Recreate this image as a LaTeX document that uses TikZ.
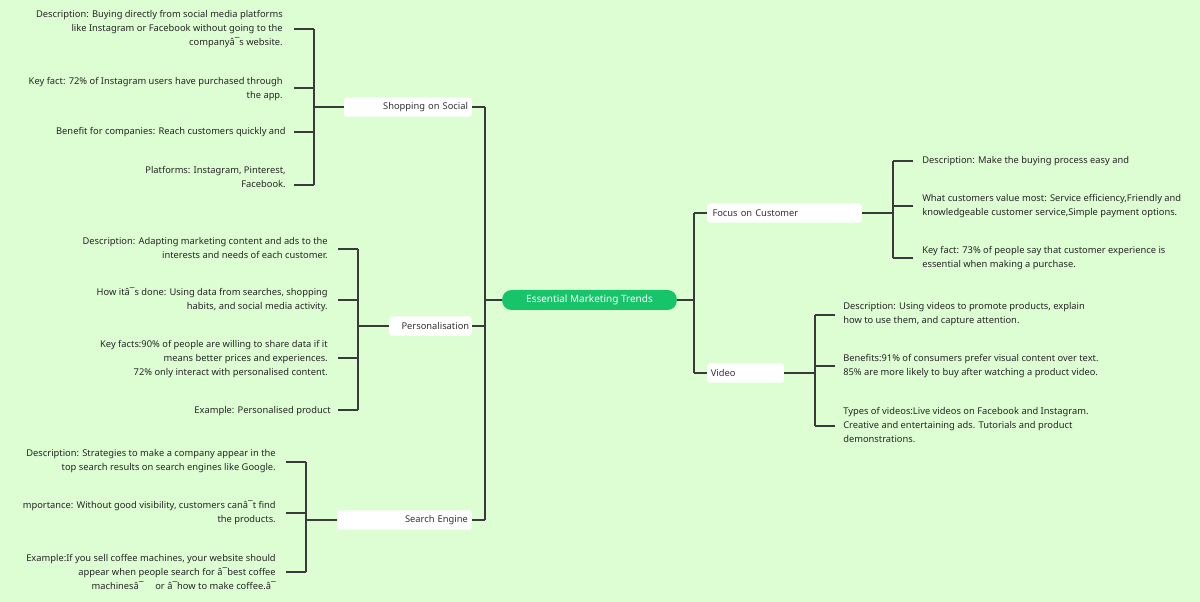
\documentclass[tikz,border=0pt]{standalone}
\usepackage{fontspec}
\setmainfont{Noto Sans}
\usetikzlibrary{positioning}
\definecolor{bgc}{HTML}{DDFDD3}
\definecolor{rootc}{HTML}{17C46A}
\definecolor{linec}{HTML}{3A3A3A}
\tikzset{
	topic/.style={fill=white, rounded corners=2pt, minimum height=14.5pt, inner sep=0pt, font=\fontsize{7}{10.5}\selectfont, text=black!80},
	leafL/.style={anchor=east, align=right, inner sep=0pt, font=\fontsize{7}{10.5}\selectfont, text=black!85},
	leafR/.style={anchor=west, align=left, inner sep=0pt, font=\fontsize{7}{10.5}\selectfont, text=black!85},
	link/.style={draw=linec, line width=1.1pt},
	twig/.style={draw=linec, line width=0.9pt}
}
\begin{document}
\begin{tikzpicture}[x=0.75pt, y=-0.75pt]
	\fill[bgc] (0, 0) rectangle (1200, 602);
	\useasboundingbox (0, 0) rectangle (1200, 602);

	% central topic
	\node[fill=rootc, rounded corners=7pt, minimum width=131pt, minimum height=15pt, inner sep=0pt, text=white, font=\fontsize{7.5}{9}\selectfont\bfseries] (root) at (589.5, 300) {Essential Marketing Trends};

	% main topics
	\node[topic, minimum width=96pt, text width=90pt, align=right] (shop) at (408, 107) {Shopping on Social};
	\node[topic, minimum width=62pt, text width=58pt, align=right] (pers) at (430.5, 326) {Personalisation};
	\node[topic, minimum width=101pt, text width=95pt, align=right] (seo) at (404.5, 520) {Search Engine};
	\node[topic, minimum width=116pt, text width=108pt, align=left] (cust) at (784.5, 213) {Focus on Customer};
	\node[topic, minimum width=58pt, text width=52pt, align=left] (video) at (745.5, 373) {Video};

	\coordinate (jl) at (485, 300);
	\coordinate (jr) at (694, 300);
	\draw[link] (root.west) -- (jl);
	\draw[link] (jl |- shop.east) -- (jl |- seo.east);
	\draw[link] (root.east) -- (jr);
	\draw[link] (jr |- cust.west) -- (jr |- video.west);
	\foreach \t in {shop, pers, seo} \draw[link] (\t.east) -- (jl |- \t.east);
	\foreach \t in {cust, video} \draw[link] (\t.west) -- (jr |- \t.west);

	% Shopping on Social
	\node[leafL] (s1) at (283, 29) {Description: Buying directly from social media platforms\\like Instagram or Facebook without going to the\\companyâ¯s website.};
	\node[leafL] (s2) at (283, 89) {Key fact: 72\% of Instagram users have purchased through\\the app.};
	\node[leafL] (s3) at (286, 132) {Benefit for companies: Reach customers quickly and};
	\node[leafL] (s4) at (286, 177) {Platforms: Instagram, Pinterest,\\Facebook.};
	\coordinate (js) at (314, 107);
	\draw[link] (shop.west) -- (js);
	\draw[twig] (js |- 0, 29) -- (js |- 0, 185);
	\foreach \y in {29, 88, 132, 185} \draw[twig] (294, \y) -- (js |- 0, \y);

	% Personalisation
	\node[leafL] (p1) at (328, 248) {Description: Adapting marketing content and ads to the\\interests and needs of each customer.};
	\node[leafL] (p2) at (328, 300) {How itâ¯s done: Using data from searches, shopping\\habits, and social media activity.};
	\node[leafL] (p3) at (328, 359) {Key facts:90\% of people are willing to share data if it\\means better prices and experiences.\\72\% only interact with personalised content.};
	\node[leafL] (p4) at (331, 411) {Example: Personalised product};
	\coordinate (jp) at (358, 326);
	\draw[link] (pers.west) -- (jp);
	\draw[twig] (jp |- 0, 249) -- (jp |- 0, 410);
	\foreach \y in {249, 300, 358, 410} \draw[twig] (338, \y) -- (jp |- 0, \y);

	% Search Engine
	\node[leafL] (e1) at (276, 461) {Description: Strategies to make a company appear in the\\top search results on search engines like Google.};
	\node[leafL] (e2) at (276, 513) {mportance: Without good visibility, customers canâ¯t find\\the products.};
	\node[leafL] (e3) at (276, 572) {Example:If you sell coffee machines, your website should\\appear when people search for â¯best coffee\\machinesâ¯\quad\ or â¯how to make coffee.â¯};
	\coordinate (je) at (306, 520);
	\draw[link] (seo.west) -- (je);
	\draw[twig] (je |- 0, 462) -- (je |- 0, 572);
	\foreach \y in {462, 513, 572} \draw[twig] (286, \y) -- (je |- 0, \y);

	% Focus on Customer
	\node[leafR] (c1) at (922, 161) {Description: Make the buying process easy and};
	\node[leafR] (c2) at (922, 206) {What customers value most: Service efficiency,Friendly and\\knowledgeable customer service,Simple payment options.};
	\node[leafR] (c3) at (922, 258) {Key fact: 73\% of people say that customer experience is\\essential when making a purchase.};
	\coordinate (jc) at (893, 213);
	\draw[link] (cust.east) -- (jc);
	\draw[twig] (jc |- 0, 161) -- (jc |- 0, 258);
	\foreach \y in {161, 206, 258} \draw[twig] (913, \y) -- (jc |- 0, \y);

	% Video
	\node[leafR] (v1) at (843, 314) {Description: Using videos to promote products, explain\\how to use them, and capture attention.};
	\node[leafR] (v2) at (843, 366) {Benefits:91\% of consumers prefer visual content over text.\\85\% are more likely to buy after watching a product video.};
	\node[leafR] (v3) at (843, 425) {Types of videos:Live videos on Facebook and Instagram.\\Creative and entertaining ads. Tutorials and product\\demonstrations.};
	\coordinate (jv) at (815, 373);
	\draw[link] (video.east) -- (jv);
	\draw[twig] (jv |- 0, 315) -- (jv |- 0, 426);
	\foreach \y in {315, 366, 426} \draw[twig] (835, \y) -- (jv |- 0, \y);
\end{tikzpicture}
\end{document}
